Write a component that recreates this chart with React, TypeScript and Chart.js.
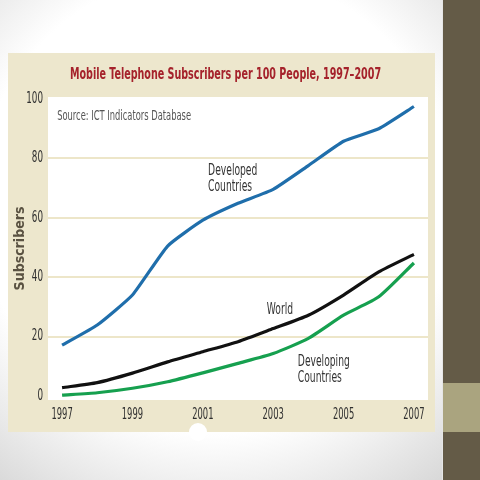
import React, { useEffect, useRef } from "react";
import { Chart, registerables } from "chart.js";

Chart.register(...registerables);

const years = [1997, 1998, 1999, 2000, 2001, 2002, 2003, 2004, 2005, 2006, 2007];
const developed = [17.1, 23.9, 34.0, 50.5, 59.2, 64.9, 69.6, 77.6, 85.8, 90.0, 97.5];
const world = [2.8, 4.5, 7.7, 11.5, 14.9, 18.3, 22.7, 27.2, 34.0, 41.8, 47.7];
const developing = [0.3, 1.1, 2.6, 4.8, 7.8, 11.0, 14.3, 19.4, 27.2, 33.4, 44.8];
const xTicks = [1997, 1999, 2001, 2003, 2005, 2007];
const yTicks = [0, 20, 40, 60, 80, 100];

const titleText = "Mobile Telephone Subscribers per 100 People, 1997\u20132007";
const sourceText = "Source: ICT Indicators Database";
const yAxisTitle = "Subscribers";

const seriesLabels = [["Developed", "Countries"], ["World"], ["Developing", "Countries"]];
const seriesLabelX = [2001.15, 2002.82, 2003.7];
const seriesLabelY = [75.8, 29.0, 11.4];
const sourceX = 1996.86;
const sourceY = 94.3;

const FONT = "'Liberation Sans Narrow', 'DejaVu Sans Condensed', 'Roboto Condensed', sans-serif";

const toPoints = (vals: number[]) => years.map((y, i) => ({ x: y, y: vals[i] }));

function drawText(
  ctx: CanvasRenderingContext2D,
  text: string,
  x: number,
  y: number,
  size: number,
  weight: string,
  color: string,
  align: CanvasTextAlign,
  sx: number
) {
  ctx.save();
  ctx.font = `${weight} ${size}px ${FONT}`;
  ctx.fillStyle = color;
  ctx.textBaseline = "middle";
  ctx.textAlign = align;
  ctx.translate(x, y);
  ctx.scale(sx, 1);
  ctx.fillText(text, 0, 0);
  ctx.restore();
}

const annotPlugin = {
  id: "annot",
  beforeDraw(chart: any) {
    const { ctx, chartArea } = chart;
    ctx.save();
    ctx.fillStyle = "#ffffff";
    ctx.fillRect(chartArea.left, chartArea.top, chartArea.right - chartArea.left, chartArea.bottom - chartArea.top);
    ctx.restore();
  },
  afterDraw(chart: any) {
    const { ctx, scales, chartArea } = chart;
    const xs = scales.x;
    const ys = scales.y;
    // title
    drawText(ctx, titleText, chart.width / 2 + 4, 21.5, 16, "bold", "#a5222b", "center", 0.665);
    // tick labels
    xs.ticks.forEach((t: any) => {
      drawText(ctx, String(t.value), xs.getPixelForValue(t.value), chartArea.bottom + 15, 15, "normal", "#2f2f2f", "center", 0.62);
    });
    ys.ticks.forEach((t: any) => {
      drawText(ctx, String(t.value), chartArea.left - 5, ys.getPixelForValue(t.value), 15, "normal", "#2f2f2f", "right", 0.65);
    });
    // source
    drawText(ctx, sourceText, xs.getPixelForValue(sourceX), ys.getPixelForValue(sourceY), 14.5, "normal", "#555555", "left", 0.64);
    // series labels
    seriesLabels.forEach((lines, i) => {
      const px = xs.getPixelForValue(seriesLabelX[i]);
      const py = ys.getPixelForValue(seriesLabelY[i]);
      lines.forEach((t, j) => drawText(ctx, t, px, py + j * 16, 15, "normal", "#333333", "left", 0.68));
    });
  },
};

function ChartView() {
  const ref = useRef<HTMLCanvasElement | null>(null);
  useEffect(() => {
    if (!ref.current) return;
    const chart = new Chart(ref.current, {
      type: "line",
      data: {
        datasets: [
          { label: "Developed Countries", data: toPoints(developed), borderColor: "#1f6eab", borderWidth: 3.2, pointRadius: 0, tension: 0.15, fill: false },
          { label: "World", data: toPoints(world), borderColor: "#111111", borderWidth: 3.2, pointRadius: 0, tension: 0.2, fill: false },
          { label: "Developing Countries", data: toPoints(developing), borderColor: "#16a04f", borderWidth: 3.2, pointRadius: 0, tension: 0.2, fill: false },
        ],
      },
      options: {
        animation: false,
        responsive: false,
        layout: { padding: { top: 44, right: 7, left: 0, bottom: 0 } },
        plugins: {
          legend: { display: false },
          tooltip: { enabled: false },
          title: { display: false },
        },
        scales: {
          x: {
            type: "linear",
            min: 1996.6,
            max: 2007.4,
            afterBuildTicks: (s: any) => { s.ticks = xTicks.map((v) => ({ value: v })); },
            afterFit: (s: any) => { s.height = 32; },
            grid: { display: false, drawTicks: false },
            border: { display: false },
            ticks: { display: false },
          },
          y: {
            type: "linear",
            min: -1.35,
            max: 100.7,
            afterBuildTicks: (s: any) => { s.ticks = yTicks.map((v) => ({ value: v })); },
            afterFit: (s: any) => { s.width = 40; },
            grid: {
              drawTicks: false,
              lineWidth: 2,
              color: (c: any) => (c.tick && (c.tick.value === 0 || c.tick.value === 100) ? "rgba(0,0,0,0)" : "#ede6c9"),
            },
            border: { display: false },
            ticks: { display: false },
            title: {
              display: true,
              text: yAxisTitle,
              color: "#5a5242",
              font: { family: FONT, size: 14, weight: "bold" },
              padding: { top: 4, bottom: 0 },
            },
          },
        },
      },
      plugins: [annotPlugin],
    });
    return () => chart.destroy();
  }, []);
  return <canvas ref={ref} width={427} height={379} style={{ width: 427, height: 379, display: "block" }} />;
}

export default function App() {
  return (
    <div
      style={{
        position: "fixed",
        left: 0,
        top: 0,
        width: 480,
        height: 480,
        overflow: "hidden",
        background: "radial-gradient(ellipse 80% 78% at 45% 42%, #ffffff 62%, #d2d2d2 100%)",
      }}
    >
      <div style={{ position: "absolute", left: 8, top: 53, width: 427, height: 379, background: "#ede7cd" }}>
        <ChartView />
      </div>
      <div style={{ position: "absolute", left: 189, top: 423, width: 18, height: 18, borderRadius: "50%", background: "#ffffff" }} />
      <div style={{ position: "absolute", left: 442, top: 0, width: 1, height: 480, background: "#e6e6e6" }} />
      <div style={{ position: "absolute", left: 443, top: 0, width: 37, height: 480, background: "#645b47" }} />
      <div style={{ position: "absolute", left: 443, top: 383, width: 37, height: 49, background: "#aaa47f" }} />
    </div>
  );
}
